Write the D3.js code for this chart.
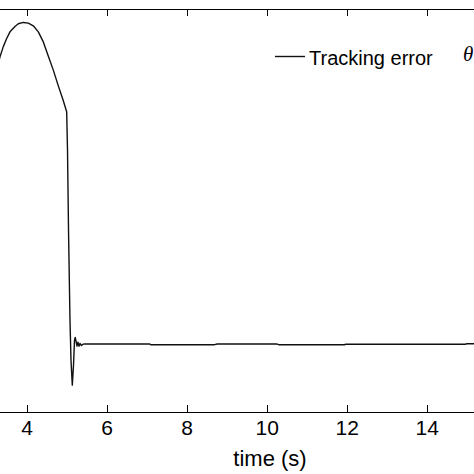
<!DOCTYPE html>
<html>
<head>
<meta charset="utf-8">
<script src="https://cdn.jsdelivr.net/npm/d3@7"></script>
<style>
    body { margin: 0; background: #fff; }
    svg { display: block; }
    .axis path, .axis line { stroke: #000; stroke-width: 1.2; shape-rendering: crispEdges; }
    .axis text { font-family: "Liberation Sans", Arial, sans-serif; font-size: 21px; fill: #000; }
</style>
</head>
<body>
<svg></svg>
<script>
// tracking error vs time
var times = [3.2, 3.333, 3.416, 3.5, 3.583, 3.708, 3.791, 3.916, 4.041, 4.166, 4.291, 4.416, 4.533, 4.666, 4.783, 4.908, 5.0,
    5.021, 5.046, 5.083, 5.108, 5.141, 5.171, 5.196, 5.213, 5.233, 5.258, 5.283, 5.308, 5.333, 5.371, 5.408, 5.458,
    7.08, 7.1, 8.7, 8.76, 10.26, 10.3, 11.94, 11.98, 14.96, 15.0, 15.3];
var errors = [3.95, 4.29, 4.44, 4.56, 4.66, 4.74, 4.78, 4.80, 4.79, 4.75, 4.66, 4.51, 4.31, 4.09, 3.87, 3.65, 3.47,
    2.90, 1.71, 0.37, -0.23, -0.60, -0.30, 0.07, 0.11, 0.06, -0.02, 0.04, -0.02, 0.02, -0.01, 0.01, 0.012,
    0.012, 0.002, 0.002, 0.012, 0.012, 0.002, 0.002, 0.008, 0.008, 0.016, 0.016];
var xTicks = [4, 6, 8, 10, 12, 14];
var legendLabel = "Tracking error";
var xLabel = "time (s)";

var w = 474,
    h = 474;
var plotTop = 9, plotBottom = 412;

var svg = d3.select("svg")
    .attr("width", w)
    .attr("height", h);

// plot is cropped: left edge (t=0) and right edge (t=16) fall outside the window
var x = d3.scaleLinear().domain([0, 16]).range([-133.33, 506.67]);
var y = d3.scaleLinear().domain([-1, 5]).range([plotBottom, plotTop]);

svg.append("defs").append("clipPath").attr("id", "plot")
    .append("rect").attr("x", 0).attr("y", plotTop).attr("width", w).attr("height", plotBottom - plotTop);

var data = times.map(function (t, i) { return { t: t, v: errors[i] }; });

var line = d3.line()
    .x(function (d) { return x(d.t); })
    .y(function (d) { return y(d.v); });

svg.append("path")
    .datum(data)
    .attr("clip-path", "url(#plot)")
    .attr("fill", "none")
    .attr("stroke", "#111")
    .attr("stroke-width", 1.4)
    .attr("stroke-linejoin", "round")
    .attr("d", line);

// frame: bottom axis with labels, top axis ticks only, ticks pointing inward
svg.append("g")
    .attr("class", "axis")
    .attr("transform", "translate(0," + plotBottom + ")")
    .call(d3.axisBottom(x).tickValues(xTicks).tickSizeInner(-7).tickSizeOuter(0).tickPadding(8));

svg.append("g")
    .attr("class", "axis")
    .attr("transform", "translate(0," + plotTop + ")")
    .call(d3.axisTop(x).tickValues(xTicks).tickSizeInner(-7).tickSizeOuter(0).tickFormat(""));

svg.append("text")
    .attr("x", 270)
    .attr("y", 466)
    .attr("text-anchor", "middle")
    .style("font-family", "Liberation Sans, Arial, sans-serif")
    .style("font-size", "22px")
    .text(xLabel);

// legend
svg.append("line")
    .attr("x1", 275).attr("x2", 305)
    .attr("y1", 56.5).attr("y2", 56.5)
    .attr("stroke", "#111")
    .attr("stroke-width", 1.4);

svg.append("text")
    .attr("x", 309)
    .attr("y", 65)
    .style("font-family", "Liberation Sans, Arial, sans-serif")
    .style("font-size", "20px")
    .text(legendLabel);

svg.append("text")
    .attr("x", 463)
    .attr("y", 61)
    .style("font-family", "Liberation Serif, DejaVu Serif, serif")
    .style("font-style", "italic")
    .style("font-size", "21px")
    .text("θ");
</script>
</body>
</html>
